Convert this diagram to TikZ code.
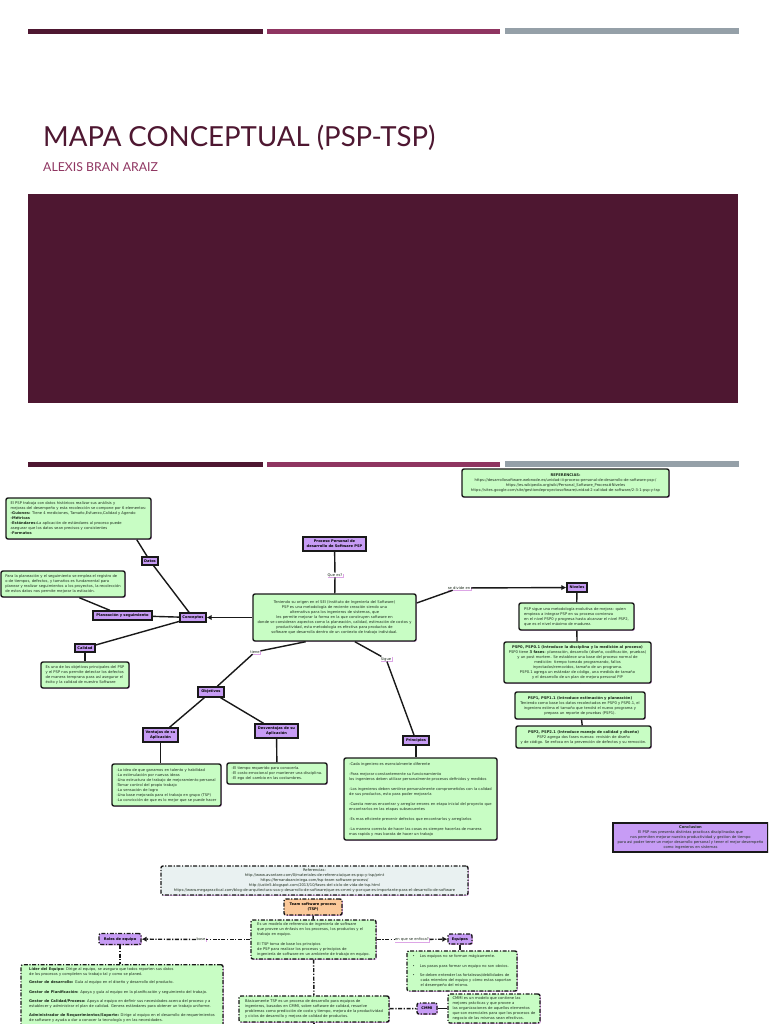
\documentclass[tikz,border=0pt]{standalone}
\usepackage{fontspec}
\setmainfont{Lato}
\newfontfamily\mapfont{DejaVu Sans}
\usetikzlibrary{arrows.meta,shadows}
\definecolor{maroondark}{HTML}{4E1731}
\definecolor{maroonmid}{HTML}{8F3561}
\definecolor{greybar}{HTML}{95A0A8}
\definecolor{mapgreen}{HTML}{C8FDC4}
\definecolor{mappurple}{HTML}{C79CF5}
\definecolor{maporange}{HTML}{FBC99A}
\definecolor{mapgrey}{HTML}{E9F1F1}
\definecolor{mappink}{HTML}{DDA6E6}
\definecolor{maptext}{HTML}{1C2B1C}
\tikzset{
	mapbase/.style={draw=black!90, line width=1.4pt, text=maptext, inner sep=1pt,
		general shadow={fill=mappink, shadow xshift=.8pt, shadow yshift=-.8pt},
		font=\mapfont\fontsize{3.7}{5}\selectfont},
	greenbox/.style={mapbase, rounded corners=2pt, fill=mapgreen},
	topicbox/.style={mapbase, fill=mappurple, align=center, text=black,
		font=\mapfont\bfseries\fontsize{3.6}{5}\selectfont},
	linklabel/.style={fill=white, inner sep=.6pt, text=maptext, align=center,
		general shadow={fill=mappink, shadow xshift=.8pt, shadow yshift=-.8pt},
		font=\mapfont\fontsize{3.7}{5}\selectfont},
	dashdotted line/.style={dash pattern=on 4pt off 1.6pt on 1.2pt off 1.6pt},
	dashgreen/.style={greenbox, dashdotted line},
	dashtopic/.style={topicbox, rounded corners=2pt, dashdotted line},
	link/.style={line width=1.4pt, draw=black!90},
	dashlink/.style={link, dashdotted line},
	arrowlink/.style={link, -{Latex[length=5pt,width=5.5pt]}},
	dasharrow/.style={dashlink, -{Latex[length=5pt,width=5.5pt]}},
}

\begin{document}
\begin{tikzpicture}[x=1pt, y=-1pt]
	\useasboundingbox (0,0) rectangle (768,1024);
	\clip (0,0) rectangle (768,1024);
	\fill[white] (0,0) rectangle (768,1024);

	%%%%% SLIDE %%%%%
	\fill[maroondark] (28,29) rectangle (263,34);
	\fill[maroonmid] (267,29) rectangle (500,34);
	\fill[greybar] (505,28) rectangle (739,34);
	\node[anchor=base west, inner sep=0, text=maroondark, font=\fontsize{27.6}{29}\selectfont] (maintitle) at (43,147) {MAPA CONCEPTUAL (PSP-TSP)};
	\node[anchor=base west, inner sep=0, text=maroonmid, font=\fontsize{12.3}{13}\selectfont] (subtitle) at (43,172) {ALEXIS BRAN ARAIZ};
	\fill[maroondark] (28,194) rectangle (738,403);
	\fill[maroondark] (28,462) rectangle (263,467);
	\fill[maroonmid] (267,462) rectangle (500,467);
	\fill[greybar] (505,461) rectangle (739,467);

	%%%%% PSP %%%%%
	\node[greenbox, align=center, minimum width=207, minimum height=28] (pspref) at (565.5,483) {\textbf{REFERENCIAS:}\\https://desarrollosoftware.webnode.es/unidad-iii-proceso-personal-de-desarrollo-de-software-psp-/\\https://es.wikipedia.org/wiki/Personal\_Software\_Process\#Niveles\\https://sites.google.com/site/gestiondeproyectosoftware/unidad-2-calidad-de-software/2-3-1-psp-y-tsp};
	\node[greenbox, align=left, minimum width=145, minimum height=41] (datosbox) at (78.5,518.5) {El PSP trabaja con datos históricos realizar sus análisis y\\mejoras del desempeño y esta recolección se compone por 6 elementos:\\\textbf{-Guiones:} Tiene 4 mediciones, Tamaño,Esfuerzo,Calidad y Agendo\\\textbf{-Métricas}\\\textbf{-Estándares:}La aplicación de estándares al proceso puede\\asegurar que los datos sean precisos y consistentes\\\textbf{-Formatos}};
	\node[greenbox, align=left, minimum width=124, minimum height=26] (planbox) at (63,584) {Para la planeación y el seguimiento se emplea el registro de\\o de tiempos, defectos, y tamaños es fundamental para\\planear y realizar seguimientos a los proyectos, la recolección\\de estos datos nos permite mejorar la estiación.};
	\node[topicbox, minimum width=16, minimum height=8] (datos) at (150,561) {Datos};
	\node[topicbox, minimum width=59, minimum height=9] (planeacion) at (122.5,615.5) {Planeación y seguimiento};
	\node[topicbox, minimum width=26, minimum height=9] (conceptos) at (193,617.5) {Conceptos};
	\node[topicbox, minimum width=20, minimum height=8] (calidad) at (85,648) {Calidad};
	\node[greenbox, align=left, minimum width=88, minimum height=26] (calbox) at (85,675) {Es uno de los objetivos principales del PSP\\y el PSP nos permite detectar los defectos\\de manera temprana para así asegurar el\\éxito y la calidad de nuestro Software};
	\node[topicbox, minimum width=63, minimum height=14] (psptitle) at (334.5,544) {Proceso Personal de\\desarrollo de Software PSP};
	\node[linklabel] (quees) at (335,575) {Que es?};
	\node[greenbox, align=center, minimum width=163, minimum height=47] (pspmain) at (334.5,617.5) {Teniendo su origen en el SEI (Instituto de Ingeniería del Software)\\PSP es una metodología de reciente creación siendo una\\alternativa para los ingenieros de sistemas, que\\les permite mejorar la forma en la que construyen software en\\donde se consideran aspectos como la planeación, calidad, estimación de costos y\\productividad, esta metodología es efectiva para productos de\\software que desarrolla dentro de un contexto de trabajo individual.};
	\node[linklabel] (divide) at (459,588) {se divide en};
	\node[topicbox, minimum width=20, minimum height=9] (niveles) at (577,587.5) {Niveles};
	\node[linklabel] (tiene) at (255,652) {tiene};
	\node[linklabel] (sigue) at (386,659) {Sigue};
	\node[topicbox, minimum width=26, minimum height=10] (objetivos) at (211,692) {Objetivos};
	\node[topicbox, minimum width=35, minimum height=14] (ventajas) at (160.5,735) {Ventajas de su\\Aplicación};
	\node[topicbox, minimum width=43, minimum height=14] (desventajas) at (276.5,731) {Desventajas de su\\Aplicación};
	\node[topicbox, minimum width=26, minimum height=9] (principios) at (416,740.5) {Principios};
	\node[greenbox, align=left, minimum width=109, minimum height=42] (ventbox) at (166.5,785) {-La idea de que ganamos en talento y habilidad\\-La estimulación por nuevas ideas\\-Una estructura de trabajo de mejoramiento personal\\-Tomar control del propio trabajo\\-La sensación de logro\\-Una base mejorada para el trabajo en grupo (TSP)\\-La convicción de que es lo mejor que se puede hacer};
	\node[greenbox, align=left, minimum width=100, minimum height=21] (desvbox) at (277,773.5) {-El tiempo requerido para conocerla.\\-El costo emocional por mantener una disciplina.\\-El ego del cambio en las costumbres.};
	\node[greenbox, align=left, minimum width=153, minimum height=82] (princbox) at (420.5,799) {-Cada ingeniero es esencialmente diferente\\[5pt]-Para mejorar constantemente su funcionamiento\\los ingenieros deben utilizar personalmente procesos definidos y medidos\\[5pt]-Los ingenieros deben sentirse personalmente comprometidos con la calidad\\de sus productos, esto para poder mejorarla\\[5pt]-Cuesta menos encontrar y arreglar errores en etapa inicial del proyecto que\\encontrarlos en las etapas subsecuentes\\[5pt]-Es mas eficiente prevenir defectos que encontrarlos y arreglarlos\\[5pt]-La manera correcta de hacer las cosas es siempre hacerlas de manera\\mas rapida y mas barata de hacer un trabajo};
	\node[greenbox, align=left, minimum width=115, minimum height=27] (siguebox) at (576.5,616.5) {PSP sigue una metodología evolutiva de mejora: quien\\empieza a integrar PSP en su proceso comienza\\en el nivel PSP0 y progresa hasta alcanzar el nivel PSP2,\\que es el nivel máximo de madurez.};
	\node[greenbox, align=center, minimum width=147, minimum height=41] (psp0box) at (577.5,662.5) {\textbf{PSP0, PSP0.1 (Introduce la disciplina y la medición al proceso)}\\PSP0 tiene \textbf{3 fases}: planeación, desarrollo (diseño, codificación, pruebas)\\y un post mortem. Se establece una base del proceso normal de\\medición: tiempo tomado programando, fallos\\inyectados/removidos, tamaño de un programa.\\PSP0.1 agrega un estándar de código, una medida de tamaño\\y el desarrollo de un plan de mejora personal PIP};
	\node[greenbox, align=center, minimum width=130, minimum height=27] (psp1box) at (580,705.5) {\textbf{PSP1, PSP1.1 (Introduce estimación y planeación)}\\Teniendo como base los datos recolectados en PSP0 y PSP0.1, el\\ingeniero estima el tamaño que tendrá el nuevo programa y\\prepara un reporte de pruebas (PSP1).};
	\node[greenbox, align=center, minimum width=135, minimum height=22] (psp2box) at (583.5,737) {\textbf{PSP2, PSP2.1 (Introduce manejo de calidad y diseño)}\\PSP2 agrega dos fases nuevas: revisión de diseño\\y de código. Se enfoca en la prevención de defectos y su remoción.};
	\node[mapbase, fill=mappurple, align=center, minimum width=155, minimum height=29] (conclusion) at (690.5,837.5) {\textbf{Conclusion}\\El PSP nos presenta distintas practicas disciplinadas que\\nos permiten mejorar nuestra productividad y gestion de tiempo\\para asi poder tener un mejor desarrollo personal y tener el mejor desempeño\\como ingenieros en sistemas};

	\draw[link] (datosbox.-20) -- (datos);
	\draw[link] (datos) -- (conceptos);
	\draw[link] (planbox.-40) -- (planeacion);
	\draw[link] (planeacion) -- (conceptos);
	\draw[link] (conceptos) -- (calidad);
	\draw[link] (calidad) -- (calbox);
	\draw[arrowlink] (pspmain) -- (conceptos);
	\draw[link] (psptitle) -- (quees);
	\draw[link] (quees) -- (pspmain);
	\draw[link] (pspmain.10) -- (divide);
	\draw[arrowlink] (divide) -- (niveles);
	\draw[link] (pspmain.-140) -- (tiene);
	\draw[link] (tiene) -- (objetivos);
	\draw[link] (pspmain.-50) -- (sigue);
	\draw[link] (sigue) -- (principios);
	\draw[link] (objetivos) -- (ventajas);
	\draw[link] (objetivos) -- (desventajas);
	\draw[link] (ventajas) -- (ventajas |- ventbox.north);
	\draw[link] (desventajas) -- (desvbox);
	\draw[link] (principios) -- (principios |- princbox.north);
	\draw[link] (niveles) -- (siguebox);
	\draw[link] (siguebox) -- (psp0box);
	\draw[link] (psp0box) -- (psp0box.south -| psp1box.north);
	\draw[link] (psp1box) -- (psp2box);

	%%%%% TSP %%%%%
	\node[greenbox, dashdotted line, fill=mapgrey, align=center, minimum width=307, minimum height=29] (tspref) at (314.5,880.5) {Referencias:\\http://www.avantare.com/0/materiales-de-referencia/que-es-psp-y-tsp/print\\https://fernandoarciniega.com/tsp-team-software-process/\\http://ustin5.blogspot.com/2013/10/fases-del-ciclo-de-vida-de-tsp.html\\https://www.megapractical.com/blog-de-arquitectura-soa-y-desarrollo-de-software/que-es-cmmi-y-por-que-es-importante-para-el-desarrollo-de-software};
	\node[dashtopic, fill=maporange, minimum width=58, minimum height=16] (team) at (313,907) {Team software process\\(TSP)};
	\node[dashgreen, align=left, minimum width=125, minimum height=39] (tspmain) at (313.5,939.5) {Es un modelo de referencia de ingeniería de software\\que provee un énfasis en los procesos, los productos y el\\trabajo en equipo.\\[5pt]El TSP toma de base los principios\\de PSP para realizar los procesos y principios de\\ingeniería de software en un ambiente de trabajo en equipo.};
	\node[linklabel] (base) at (201,939.5) {base};
	\node[linklabel] (enfoca) at (412,939.5) {en que se enfoca?};
	\node[dashtopic, minimum width=42, minimum height=11] (roles) at (120,939) {Roles de equipo};
	\node[dashtopic, minimum width=24, minimum height=10] (equipos) at (460,939) {Equipos};
	\node[dashgreen, anchor=north, align=left, inner ysep=2.5pt, minimum width=202] (rolesbox) at (122,964) {\textbf{Líder del Equipo:} Dirige al equipo, se asegura que todos reporten sus datos\\de los procesos y completen su trabajo tal y como se planeó.\\[3.5pt]\textbf{Gestor de desarrollo:} Guía al equipo en el diseño y desarrollo del producto.\\[4.5pt]\textbf{Gestor de Planificación:} Apoya y guía al equipo en la planificación y seguimiento del trabajo.\\[4.5pt]\textbf{Gestor de Calidad/Proceso:} Apoya al equipo en definir sus necesidades acerca del proceso y a\\establecer y administrar el plan de calidad. Genera estándares para obtener un trabajo uniforme.\\[3.5pt]\textbf{Administrador de Requerimientos/Soporte:} Dirige al equipo en el desarrollo de requerimientos\\de software y ayuda a dar a conocer la tecnología y en las necesidades.\\[15pt]~};
	\node[dashgreen, align=left, minimum width=110, minimum height=40] (equipobox) at (462,971) {\textbullet\hspace{5pt}Los equipos no se forman mágicamente.\\[4.5pt]\textbullet\hspace{5pt}Los pasos para formar un equipo no son obvios.\\[4.5pt]\textbullet\hspace{5pt}Se deben entender las fortalezas/debilidades de\\\hspace{8pt}cada miembro del equipo y cómo estas soportan\\\hspace{8pt}el desempeño del mismo.};
	\node[dashgreen, align=left, minimum width=150, minimum height=26] (basicbox) at (314,1009) {Básicamente TSP es un proceso de desarrollo para equipos de\\ingenieros, basados en CMMI, sobre software de calidad, resuelve\\problemas como predicción de costo y tiempo, mejora de la productividad\\ y ciclos de desarrollo y mejora de calidad de productos.};
	\node[dashtopic, minimum width=20, minimum height=11] (cmmi) at (427,1008.5) {CMMI};
	\node[dashgreen, align=left, minimum width=92, minimum height=29] (cmmibox) at (494,1008.5) {CMMI es un modelo que contiene las\\mejores prácticas y que provee a\\las organizaciones de aquellos elementos\\que son esenciales para que los procesos de\\negocio de las mismas sean efectivos.};
	\coordinate (basicend) at (314,1030);

	\draw[link] (team) -- (tspmain);
	\draw[dashlink] (tspmain) -- (base);
	\draw[dasharrow] (base) -- (roles);
	\draw[dashlink] (tspmain) -- (enfoca);
	\draw[dasharrow] (enfoca) -- (equipos);
	\draw[dashlink] (roles) -- (roles |- rolesbox.north);
	\draw[link] (equipos) -- (equipos |- equipobox.north);
	\draw[dashlink] (tspmain) -- (basicbox);
	\draw[dashlink] (basicbox) -- (cmmi);
	\draw[link] (cmmi) -- (cmmibox);
	\draw[link] (basicbox) -- (basicend);
\end{tikzpicture}
\end{document}
